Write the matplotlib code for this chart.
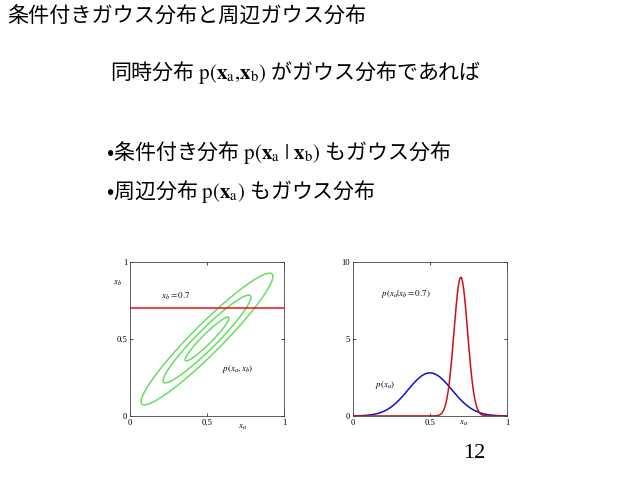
import numpy as np
import matplotlib
matplotlib.use("Agg")
import matplotlib.pyplot as plt

plt.rcParams['font.family'] = ['Noto Sans CJK JP', 'DejaVu Sans']
plt.rcParams['mathtext.fontset'] = 'stix'

# Parameters
joint_mean = [0.5, 0.5]
joint_sd = [0.1425, 0.1425]
joint_rho = 0.95
contour_levels_mahal = [1, 2, 3]
cond_xb = 0.7
marg_mean, marg_sd = 0.5, 0.1425
cond_mean, cond_sd = 0.7, 0.0443

left_ticks = [0, 0.5, 1]
left_ticklabels = ['0', '0.5', '1']
right_yticks = [0, 5, 10]
right_yticklabels = ['0', '5', '10']

green = '#66dd66'

fig = plt.figure(figsize=(6.38, 4.78), dpi=100)
W, H = 638, 478

def fx(px):
    return px / W

def fy(py):
    return 1 - py / H

fig.text(fx(7), fy(17), '条件付きガウス分布と周辺ガウス分布', fontsize=15.2, va='center', ha='left')
fig.text(fx(110), fy(72), r'同時分布 $\mathrm{p}(\mathbf{x}_\mathrm{a}\mathrm{,}\mathbf{x}_\mathrm{b})$ がガウス分布であれば',
         fontsize=15.1, va='center', ha='left')
fig.text(fx(106), fy(152), r'•条件付き分布 $\mathrm{p}(\mathbf{x}_\mathrm{a}\ |\ \mathbf{x}_\mathrm{b})$ もガウス分布',
         fontsize=15.1, va='center', ha='left')
fig.text(fx(106), fy(192), r'•周辺分布 $\mathrm{p}(\mathbf{x}_\mathrm{a})$ もガウス分布',
         fontsize=15.1, va='center', ha='left')
fig.text(fx(474), fy(454), '12', fontsize=16, va='center', ha='center', family='Liberation Serif')

ax1 = fig.add_axes([fx(130), fy(416), 154 / W, 154 / H])
ax2 = fig.add_axes([fx(353), fy(416), 154 / W, 154 / H])

# Left: joint contours
g = np.linspace(0, 1, 400)
XA, XB = np.meshgrid(g, g)
za = (XA - joint_mean[0]) / joint_sd[0]
zb = (XB - joint_mean[1]) / joint_sd[1]
m2 = (za**2 - 2 * joint_rho * za * zb + zb**2) / (1 - joint_rho**2)
ax1.contour(XA, XB, np.sqrt(m2), levels=contour_levels_mahal, colors=green, linewidths=1.1)
ax1.axhline(cond_xb, color='#ee1111', lw=1.1)
ax1.set_xlim(0, 1)
ax1.set_ylim(0, 1)
ax1.set_xticks(left_ticks)
ax1.set_xticklabels(left_ticklabels)
ax1.set_yticks(left_ticks)
ax1.set_yticklabels(left_ticklabels)
ax1.text(0.2, 0.76, r'$x_b = 0.7$', fontsize=6.5)
ax1.text(0.6, 0.29, r'$p(x_a, x_b)$', fontsize=6.5)
ax1.text(0.73, -0.075, r'$x_a$', fontsize=6.5, ha='center', va='center', clip_on=False)
ax1.text(-0.08, 0.86, r'$x_b$', fontsize=6.5, ha='center', va='center', clip_on=False)

# Right: marginal and conditional
x = np.linspace(0, 1, 500)
marg = np.exp(-0.5 * ((x - marg_mean) / marg_sd)**2) / (marg_sd * np.sqrt(2 * np.pi))
cond = np.exp(-0.5 * ((x - cond_mean) / cond_sd)**2) / (cond_sd * np.sqrt(2 * np.pi))
ax2.plot(x, marg, color='#1010cc', lw=1.1)
ax2.plot(x, cond, color='#cc1111', lw=1.1)
ax2.set_xlim(0, 1)
ax2.set_ylim(0, 10)
ax2.set_xticks(left_ticks)
ax2.set_xticklabels(left_ticklabels)
ax2.set_yticks(right_yticks)
ax2.set_yticklabels(right_yticklabels)
ax2.text(0.18, 7.8, r'$p(x_a|x_b = 0.7)$', fontsize=6.5)
ax2.text(0.14, 1.9, r'$p(x_a)$', fontsize=6.5)
ax2.text(0.72, -0.5, r'$x_a$', fontsize=6.5, ha='center', va='center', clip_on=False)

for ax in (ax1, ax2):
    ax.tick_params(direction='in', length=2, width=0.5, labelsize=6.2, top=True, right=True, pad=2)
    for lab in ax.get_xticklabels() + ax.get_yticklabels():
        lab.set_family('Liberation Serif')
    for s in ax.spines.values():
        s.set_linewidth(0.6)
        s.set_color('#444444')

fig.savefig('out.png', dpi=100)
